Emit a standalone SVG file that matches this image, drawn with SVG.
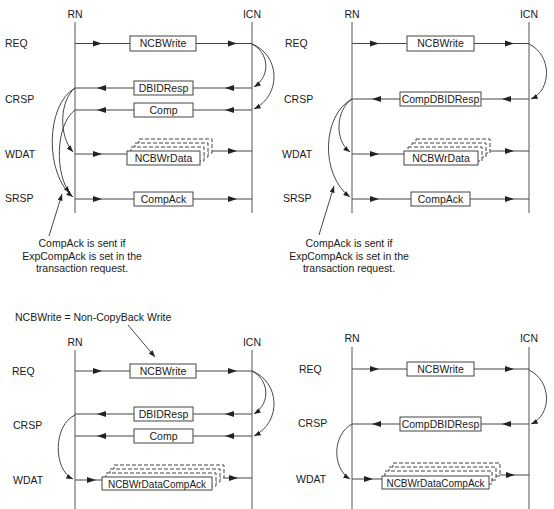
<svg xmlns="http://www.w3.org/2000/svg" width="554" height="509" viewBox="0 0 554 509">
<style>
text{font-family:"Liberation Sans",Arial,sans-serif;font-size:10.5px;fill:#1a1a1a}
.c{text-anchor:middle}
.ll{stroke:#555;stroke-width:1;fill:none}
.msg{stroke:#444;stroke-width:1;fill:none}
.box{fill:#fff;stroke:#444;stroke-width:1}
.dbox{fill:#fff;stroke:#444;stroke-width:1;stroke-dasharray:4 2}
.cur{stroke:#333;stroke-width:0.9;fill:none;marker-end:url(#m)}
.ah{fill:#222}
.sm{font-size:10px}
</style>
<defs>
<marker id="m" viewBox="0 0 8 6" refX="8" refY="3" markerWidth="7" markerHeight="5" markerUnits="userSpaceOnUse" orient="auto"><path d="M0,0 L8,3 L0,6 Z" fill="#222"/></marker>
<path id="ar" d="M0,0 L-9,-3 L-9,3 Z"/>
<path id="al" d="M0,0 L9,-3 L9,3 Z"/>
</defs>
<rect width="554" height="509" fill="#fff"/>

<!-- Top-left diagram -->
<g id="tl-labels">
<text class="c" x="75" y="18">RN</text>
<text class="c" x="252" y="18">ICN</text>
<text x="5" y="47">REQ</text>
<text x="5" y="103">CRSP</text>
<text x="5" y="158">WDAT</text>
<text x="5" y="202">SRSP</text>
</g>
<g id="tl-rn"><line class="ll" x1="75" y1="22" x2="75" y2="213"/></g>
<g id="tl-icn"><line class="ll" x1="252" y1="22" x2="252" y2="213"/></g>
<g id="tl-connectors">
<line class="msg" x1="75" y1="43.5" x2="252" y2="43.5"/>
<use href="#ar" class="ah" x="102" y="43.5"/><use href="#ar" class="ah" x="237" y="43.5"/>
<line class="msg" x1="75" y1="88" x2="252" y2="88"/>
<use href="#al" class="ah" x="97" y="88"/><use href="#al" class="ah" x="225" y="88"/>
<line class="msg" x1="75" y1="110" x2="252" y2="110"/>
<use href="#al" class="ah" x="97" y="110"/><use href="#al" class="ah" x="225" y="110"/>
<line class="msg" x1="75" y1="154" x2="127" y2="154"/>
<use href="#ar" class="ah" x="102" y="154"/>
<line class="msg" x1="212" y1="151" x2="252" y2="151"/>
<use href="#ar" class="ah" x="237" y="151"/>
<line class="msg" x1="75" y1="199" x2="252" y2="199"/>
<use href="#ar" class="ah" x="102" y="199"/><use href="#ar" class="ah" x="237" y="199"/>
<path class="cur" d="M252,44 C268,52 272,75 254,87"/>
<path class="cur" d="M252,44 C280,55 282,95 254,109"/>
<path class="cur" d="M75,88 C60,100 58,135 73,152"/>
<path class="cur" d="M75,110 C55,125 55,175 70,193"/>
<path class="cur" d="M75,88 C45,105 45,175 73,197"/>
<path class="cur" d="M49,236 L62,194"/>
</g>
<g id="tl-ncbwrite"><rect class="box" x="130" y="36" width="66" height="15"/><text class="c" x="163" y="47.3">NCBWrite</text></g>
<g id="tl-dbidresp"><rect class="box" x="134" y="81" width="59" height="14"/><text class="c" x="163.5" y="91.8">DBIDResp</text></g>
<g id="tl-comp"><rect class="box" x="134" y="103" width="59" height="14"/><text class="c" x="163.5" y="113.8">Comp</text></g>
<g id="tl-ncbwrdata">
<rect class="dbox" x="139" y="139" width="73" height="14"/>
<rect class="dbox" x="135" y="143" width="73" height="14"/>
<rect class="dbox" x="131" y="147" width="73" height="14"/>
<rect class="box" x="127" y="151" width="73" height="14"/>
<text class="c" x="163.5" y="161.8">NCBWrData</text>
</g>
<g id="tl-compack"><rect class="box" x="134" y="192" width="59" height="14"/><text class="c" x="163.5" y="202.8">CompAck</text></g>
<g id="tl-note">
<text class="c" x="82" y="247">CompAck is sent if</text>
<text class="c" x="82" y="260">ExpCompAck is set in the</text>
<text class="c" x="82" y="272">transaction request.</text>
</g>

<!-- Top-right diagram -->
<g id="tr-labels">
<text class="c" x="352" y="18">RN</text>
<text class="c" x="529" y="18">ICN</text>
<text x="285" y="47">REQ</text>
<text x="284" y="103">CRSP</text>
<text x="282" y="158">WDAT</text>
<text x="283" y="202">SRSP</text>
</g>
<g id="tr-rn"><line class="ll" x1="352" y1="22" x2="352" y2="213"/></g>
<g id="tr-icn"><line class="ll" x1="529" y1="22" x2="529" y2="213"/></g>
<g id="tr-connectors">
<line class="msg" x1="352" y1="43.5" x2="529" y2="43.5"/>
<use href="#ar" class="ah" x="379" y="43.5"/><use href="#ar" class="ah" x="514" y="43.5"/>
<line class="msg" x1="352" y1="99" x2="529" y2="99"/>
<use href="#al" class="ah" x="372" y="99"/><use href="#al" class="ah" x="502" y="99"/>
<line class="msg" x1="352" y1="154" x2="404" y2="154"/>
<use href="#ar" class="ah" x="379" y="154"/>
<line class="msg" x1="490" y1="151" x2="529" y2="151"/>
<use href="#ar" class="ah" x="514" y="151"/>
<line class="msg" x1="352" y1="199" x2="529" y2="199"/>
<use href="#ar" class="ah" x="379" y="199"/><use href="#ar" class="ah" x="514" y="199"/>
<path class="cur" d="M529,44 C552,55 552,90 531,99"/>
<path class="cur" d="M352,99 C336,110 334,140 350,152"/>
<path class="cur" d="M352,99 C322,115 320,175 350,197"/>
<path class="cur" d="M319,235 L334,186"/>
</g>
<g id="tr-ncbwrite"><rect class="box" x="407" y="36" width="67" height="15"/><text class="c" x="440.5" y="47.3">NCBWrite</text></g>
<g id="tr-compdbidresp"><rect class="box" x="400" y="92" width="81" height="14"/><text class="c" x="440.5" y="102.8">CompDBIDResp</text></g>
<g id="tr-ncbwrdata">
<rect class="dbox" x="416" y="139" width="74" height="14"/>
<rect class="dbox" x="412" y="143" width="74" height="14"/>
<rect class="dbox" x="408" y="147" width="74" height="14"/>
<rect class="box" x="404" y="151" width="74" height="14"/>
<text class="c" x="441" y="161.8">NCBWrData</text>
</g>
<g id="tr-compack"><rect class="box" x="411" y="192" width="59" height="14"/><text class="c" x="440.5" y="202.8">CompAck</text></g>
<g id="tr-note">
<text class="c" x="349" y="247">CompAck is sent if</text>
<text class="c" x="349" y="260">ExpCompAck is set in the</text>
<text class="c" x="349" y="272">transaction request.</text>
</g>

<!-- Bottom-left diagram -->
<g id="bl-note"><text x="15" y="321">NCBWrite = Non-CopyBack Write</text></g>
<g id="bl-labels">
<text class="c" x="75" y="346">RN</text>
<text class="c" x="252" y="346">ICN</text>
<text x="12" y="375">REQ</text>
<text x="13" y="429">CRSP</text>
<text x="13" y="484">WDAT</text>
</g>
<g id="bl-rn"><line class="ll" x1="75" y1="350" x2="75" y2="509"/></g>
<g id="bl-icn"><line class="ll" x1="252" y1="350" x2="252" y2="509"/></g>
<g id="bl-connectors">
<path class="cur" d="M128,325 L155,357"/>
<line class="msg" x1="75" y1="371" x2="252" y2="371"/>
<use href="#ar" class="ah" x="102" y="371"/><use href="#ar" class="ah" x="237" y="371"/>
<line class="msg" x1="75" y1="414" x2="252" y2="414"/>
<use href="#al" class="ah" x="97" y="414"/><use href="#al" class="ah" x="225" y="414"/>
<line class="msg" x1="75" y1="436" x2="252" y2="436"/>
<use href="#al" class="ah" x="97" y="436"/><use href="#al" class="ah" x="225" y="436"/>
<line class="msg" x1="75" y1="480" x2="102" y2="480"/>
<use href="#ar" class="ah" x="96" y="480"/>
<line class="msg" x1="224" y1="478" x2="252" y2="478"/>
<use href="#ar" class="ah" x="238" y="478"/>
<path class="cur" d="M252,371 C268,379 272,402 254,414"/>
<path class="cur" d="M252,371 C280,382 282,422 254,436"/>
<path class="cur" d="M75,415 C53,425 53,470 73,479"/>
</g>
<g id="bl-ncbwrite"><rect class="box" x="130" y="364" width="66" height="14"/><text class="c" x="163" y="374.8">NCBWrite</text></g>
<g id="bl-dbidresp"><rect class="box" x="134" y="407" width="59" height="14"/><text class="c" x="163.5" y="417.8">DBIDResp</text></g>
<g id="bl-comp"><rect class="box" x="134" y="429" width="59" height="14"/><text class="c" x="163.5" y="439.8">Comp</text></g>
<g id="bl-ncbwrdatacompack">
<rect class="dbox" x="114" y="465" width="110" height="13"/>
<rect class="dbox" x="110" y="469" width="110" height="13"/>
<rect class="dbox" x="106" y="473" width="110" height="13"/>
<rect class="box" x="102" y="477" width="110" height="13"/>
<text class="c sm" x="157" y="487.5">NCBWrDataCompAck</text>
</g>

<!-- Bottom-right diagram -->
<g id="br-labels">
<text class="c" x="352" y="342">RN</text>
<text class="c" x="529" y="342">ICN</text>
<text x="299" y="373">REQ</text>
<text x="298" y="427">CRSP</text>
<text x="296" y="483">WDAT</text>
</g>
<g id="br-rn"><line class="ll" x1="352" y1="347" x2="352" y2="509"/></g>
<g id="br-icn"><line class="ll" x1="529" y1="347" x2="529" y2="509"/></g>
<g id="br-connectors">
<line class="msg" x1="352" y1="369" x2="529" y2="369"/>
<use href="#ar" class="ah" x="379" y="369"/><use href="#ar" class="ah" x="514" y="369"/>
<line class="msg" x1="352" y1="424" x2="529" y2="424"/>
<use href="#al" class="ah" x="372" y="424"/><use href="#al" class="ah" x="502" y="424"/>
<line class="msg" x1="352" y1="479" x2="382" y2="479"/>
<use href="#ar" class="ah" x="373" y="479"/>
<line class="msg" x1="500" y1="475" x2="529" y2="475"/>
<use href="#ar" class="ah" x="515" y="475"/>
<path class="cur" d="M529,370 C552,381 552,415 531,424"/>
<path class="cur" d="M352,424 C332,435 332,468 350,479"/>
</g>
<g id="br-ncbwrite"><rect class="box" x="407" y="362" width="67" height="14"/><text class="c" x="440.5" y="372.8">NCBWrite</text></g>
<g id="br-compdbidresp"><rect class="box" x="400" y="417" width="81" height="14"/><text class="c" x="440.5" y="427.8">CompDBIDResp</text></g>
<g id="br-ncbwrdatacompack">
<rect class="dbox" x="393" y="463" width="107" height="13"/>
<rect class="dbox" x="389" y="467" width="107" height="13"/>
<rect class="dbox" x="385" y="471" width="107" height="13"/>
<rect class="box" x="382" y="476" width="107" height="13"/>
<text class="c sm" x="435.5" y="486.5">NCBWrDataCompAck</text>
</g>
</svg>
